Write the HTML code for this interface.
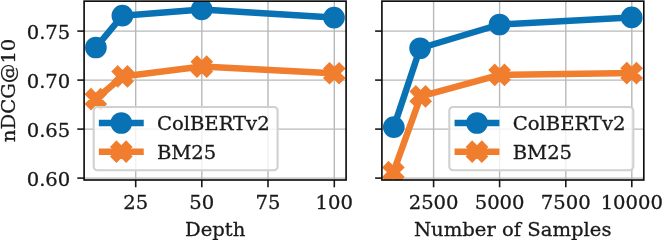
<!DOCTYPE html>
<html><head><meta charset="utf-8"><title>nDCG@10 plots</title>
<style>html,body{margin:0;padding:0;background:#fff;}body{width:662px;height:240px;overflow:hidden;}svg{display:block;}text{stroke:#1a1a1a;stroke-width:0.3px;}</style>
</head><body>
<svg width="662" height="240" viewBox="0 0 662 240" font-family="'DejaVu Serif', 'Liberation Serif', serif" font-size="19.2px" fill="#1a1a1a">
<rect width="662" height="240" fill="#ffffff"/>
<clipPath id="c1"><rect x="84.1" y="1.15" width="262.0" height="178.85"/></clipPath>
<g stroke="#b8b8b8" stroke-width="1.4">
<line x1="135.7" x2="135.7" y1="1.15" y2="180.0"/>
<line x1="201.8" x2="201.8" y1="1.15" y2="180.0"/>
<line x1="268.0" x2="268.0" y1="1.15" y2="180.0"/>
<line x1="334.3" x2="334.3" y1="1.15" y2="180.0"/>
<line x1="84.1" x2="346.1" y1="31.1" y2="31.1"/>
<line x1="84.1" x2="346.1" y1="80.1" y2="80.1"/>
<line x1="84.1" x2="346.1" y1="129.1" y2="129.1"/>
<line x1="84.1" x2="346.1" y1="178.1" y2="178.1"/>
</g>
<g stroke="#1a1a1a" stroke-width="1.6">
<line x1="135.7" x2="135.7" y1="180.0" y2="187.3"/>
<line x1="201.8" x2="201.8" y1="180.0" y2="187.3"/>
<line x1="268.0" x2="268.0" y1="180.0" y2="187.3"/>
<line x1="334.3" x2="334.3" y1="180.0" y2="187.3"/>
<line x1="77.3" x2="84.1" y1="31.1" y2="31.1"/>
<line x1="77.3" x2="84.1" y1="80.1" y2="80.1"/>
<line x1="77.3" x2="84.1" y1="129.1" y2="129.1"/>
<line x1="77.3" x2="84.1" y1="178.1" y2="178.1"/>
</g>
<g clip-path="url(#c1)">
<polyline points="95.90,47.50 122.40,15.70 201.70,9.40 334.00,17.60" fill="none" stroke="#0872B4" stroke-width="6.5" stroke-linejoin="round" stroke-linecap="square"/>
<circle cx="95.90" cy="47.50" r="9.65" fill="#0872B4" stroke="#0872B4" stroke-width="2.4"/>
<circle cx="122.40" cy="15.70" r="9.65" fill="#0872B4" stroke="#0872B4" stroke-width="2.4"/>
<circle cx="201.70" cy="9.40" r="9.65" fill="#0872B4" stroke="#0872B4" stroke-width="2.4"/>
<circle cx="334.00" cy="17.60" r="9.65" fill="#0872B4" stroke="#0872B4" stroke-width="2.4"/>
<polyline points="95.80,99.10 122.60,76.40 201.80,66.60 334.30,73.25" fill="none" stroke="#F07E2E" stroke-width="6.5" stroke-linejoin="round" stroke-linecap="square"/>
<path d="M90.97,89.45 L95.80,94.27 L100.62,89.45 L105.45,94.27 L100.62,99.10 L105.45,103.92 L100.62,108.75 L95.80,103.92 L90.97,108.75 L86.15,103.92 L90.97,99.10 L86.15,94.27Z" fill="#F07E2E" stroke="#F07E2E" stroke-width="2.4" stroke-linejoin="miter"/>
<path d="M117.77,66.75 L122.60,71.58 L127.42,66.75 L132.25,71.58 L127.42,76.40 L132.25,81.23 L127.42,86.05 L122.60,81.23 L117.77,86.05 L112.95,81.23 L117.77,76.40 L112.95,71.58Z" fill="#F07E2E" stroke="#F07E2E" stroke-width="2.4" stroke-linejoin="miter"/>
<path d="M196.98,56.95 L201.80,61.77 L206.62,56.95 L211.45,61.77 L206.62,66.60 L211.45,71.42 L206.62,76.25 L201.80,71.42 L196.98,76.25 L192.15,71.42 L196.98,66.60 L192.15,61.77Z" fill="#F07E2E" stroke="#F07E2E" stroke-width="2.4" stroke-linejoin="miter"/>
<path d="M329.48,63.60 L334.30,68.42 L339.12,63.60 L343.95,68.42 L339.12,73.25 L343.95,78.08 L339.12,82.90 L334.30,78.08 L329.48,82.90 L324.65,78.08 L329.48,73.25 L324.65,68.42Z" fill="#F07E2E" stroke="#F07E2E" stroke-width="2.4" stroke-linejoin="miter"/>
</g>
<rect x="84.1" y="1.15" width="262.0" height="178.85" fill="none" stroke="#0d0d0d" stroke-width="1.65"/>
<text transform="translate(135.7 208.7) scale(1.021 1)" text-anchor="middle">25</text>
<text transform="translate(201.8 208.7) scale(1.021 1)" text-anchor="middle">50</text>
<text transform="translate(268.0 208.7) scale(1.021 1)" text-anchor="middle">75</text>
<text transform="translate(334.3 208.7) scale(1.021 1)" text-anchor="middle">100</text>
<text transform="translate(70.3 38.90) scale(1.021 1)" text-anchor="end">0.75</text>
<text transform="translate(70.3 87.90) scale(1.021 1)" text-anchor="end">0.70</text>
<text transform="translate(70.3 136.90) scale(1.021 1)" text-anchor="end">0.65</text>
<text transform="translate(70.3 185.90) scale(1.021 1)" text-anchor="end">0.60</text>
<clipPath id="c2"><rect x="381.9" y="1.15" width="261.9" height="178.85"/></clipPath>
<g stroke="#b8b8b8" stroke-width="1.4">
<line x1="433.6" x2="433.6" y1="1.15" y2="180.0"/>
<line x1="499.6" x2="499.6" y1="1.15" y2="180.0"/>
<line x1="565.8" x2="565.8" y1="1.15" y2="180.0"/>
<line x1="631.8" x2="631.8" y1="1.15" y2="180.0"/>
<line x1="381.9" x2="643.8" y1="31.1" y2="31.1"/>
<line x1="381.9" x2="643.8" y1="80.1" y2="80.1"/>
<line x1="381.9" x2="643.8" y1="129.1" y2="129.1"/>
<line x1="381.9" x2="643.8" y1="178.1" y2="178.1"/>
</g>
<g stroke="#1a1a1a" stroke-width="1.6">
<line x1="433.6" x2="433.6" y1="180.0" y2="187.3"/>
<line x1="499.6" x2="499.6" y1="180.0" y2="187.3"/>
<line x1="565.8" x2="565.8" y1="180.0" y2="187.3"/>
<line x1="631.8" x2="631.8" y1="180.0" y2="187.3"/>
<line x1="375.09999999999997" x2="381.9" y1="31.1" y2="31.1"/>
<line x1="375.09999999999997" x2="381.9" y1="80.1" y2="80.1"/>
<line x1="375.09999999999997" x2="381.9" y1="129.1" y2="129.1"/>
<line x1="375.09999999999997" x2="381.9" y1="178.1" y2="178.1"/>
</g>
<g clip-path="url(#c2)">
<polyline points="393.80,127.10 420.10,48.25 499.50,24.50 631.70,17.40" fill="none" stroke="#0872B4" stroke-width="6.5" stroke-linejoin="round" stroke-linecap="square"/>
<circle cx="393.80" cy="127.10" r="9.65" fill="#0872B4" stroke="#0872B4" stroke-width="2.4"/>
<circle cx="420.10" cy="48.25" r="9.65" fill="#0872B4" stroke="#0872B4" stroke-width="2.4"/>
<circle cx="499.50" cy="24.50" r="9.65" fill="#0872B4" stroke="#0872B4" stroke-width="2.4"/>
<circle cx="631.70" cy="17.40" r="9.65" fill="#0872B4" stroke="#0872B4" stroke-width="2.4"/>
<polyline points="393.40,172.20 420.70,96.40 499.60,74.90 631.60,73.10" fill="none" stroke="#F07E2E" stroke-width="6.5" stroke-linejoin="round" stroke-linecap="square"/>
<path d="M388.57,162.55 L393.40,167.38 L398.22,162.55 L403.05,167.38 L398.22,172.20 L403.05,177.02 L398.22,181.85 L393.40,177.02 L388.57,181.85 L383.75,177.02 L388.57,172.20 L383.75,167.38Z" fill="#F07E2E" stroke="#F07E2E" stroke-width="2.4" stroke-linejoin="miter"/>
<path d="M415.88,86.75 L420.70,91.58 L425.52,86.75 L430.35,91.58 L425.52,96.40 L430.35,101.23 L425.52,106.05 L420.70,101.23 L415.88,106.05 L411.05,101.23 L415.88,96.40 L411.05,91.58Z" fill="#F07E2E" stroke="#F07E2E" stroke-width="2.4" stroke-linejoin="miter"/>
<path d="M494.78,65.25 L499.60,70.08 L504.43,65.25 L509.25,70.08 L504.43,74.90 L509.25,79.73 L504.43,84.55 L499.60,79.73 L494.78,84.55 L489.95,79.73 L494.78,74.90 L489.95,70.08Z" fill="#F07E2E" stroke="#F07E2E" stroke-width="2.4" stroke-linejoin="miter"/>
<path d="M626.77,63.45 L631.60,68.27 L636.43,63.45 L641.25,68.27 L636.43,73.10 L641.25,77.92 L636.43,82.75 L631.60,77.92 L626.77,82.75 L621.95,77.92 L626.77,73.10 L621.95,68.27Z" fill="#F07E2E" stroke="#F07E2E" stroke-width="2.4" stroke-linejoin="miter"/>
</g>
<rect x="381.9" y="1.15" width="261.9" height="178.85" fill="none" stroke="#0d0d0d" stroke-width="1.65"/>
<text transform="translate(433.6 208.7) scale(1.021 1)" text-anchor="middle">2500</text>
<text transform="translate(499.6 208.7) scale(1.021 1)" text-anchor="middle">5000</text>
<text transform="translate(565.8 208.7) scale(1.021 1)" text-anchor="middle">7500</text>
<text transform="translate(631.8 208.7) scale(1.021 1)" text-anchor="middle">10000</text>
<rect x="93.7" y="107.0" width="183.90000000000003" height="63.30000000000001" rx="3.8" ry="3.8" fill="#ffffff" fill-opacity="0.8" stroke="#cfd1d1" stroke-width="2.1"/>
<line x1="102.1" x2="140.5" y1="123.0" y2="123.0" stroke="#0872B4" stroke-width="6.5" stroke-linecap="square"/>
<circle cx="121.3" cy="123.0" r="9.65" fill="#0872B4" stroke="#0872B4" stroke-width="2.4"/>
<text transform="translate(156.9 129.8) scale(1.021 1)">ColBERTv2</text>
<line x1="102.1" x2="140.5" y1="151.7" y2="151.7" stroke="#F07E2E" stroke-width="6.5" stroke-linecap="square"/>
<path d="M116.47,142.05 L121.30,146.88 L126.12,142.05 L130.95,146.88 L126.12,151.70 L130.95,156.52 L126.12,161.35 L121.30,156.52 L116.47,161.35 L111.65,156.52 L116.47,151.70 L111.65,146.88Z" fill="#F07E2E" stroke="#F07E2E" stroke-width="2.4"/>
<text transform="translate(156.9 158.6) scale(1.021 1)">BM25</text>
<rect x="449.3" y="107.0" width="183.99999999999994" height="63.30000000000001" rx="3.8" ry="3.8" fill="#ffffff" fill-opacity="0.8" stroke="#cfd1d1" stroke-width="2.1"/>
<line x1="457.8" x2="496.2" y1="123.0" y2="123.0" stroke="#0872B4" stroke-width="6.5" stroke-linecap="square"/>
<circle cx="477.0" cy="123.0" r="9.65" fill="#0872B4" stroke="#0872B4" stroke-width="2.4"/>
<text transform="translate(512.7 129.8) scale(1.021 1)">ColBERTv2</text>
<line x1="457.8" x2="496.2" y1="151.7" y2="151.7" stroke="#F07E2E" stroke-width="6.5" stroke-linecap="square"/>
<path d="M472.18,142.05 L477.00,146.88 L481.82,142.05 L486.65,146.88 L481.82,151.70 L486.65,156.52 L481.82,161.35 L477.00,156.52 L472.18,161.35 L467.35,156.52 L472.18,151.70 L467.35,146.88Z" fill="#F07E2E" stroke="#F07E2E" stroke-width="2.4"/>
<text transform="translate(512.7 158.6) scale(1.021 1)">BM25</text>
<text transform="translate(215.2 235.8) scale(1.021 1)" text-anchor="middle">Depth</text>
<text transform="translate(512.7 235.8) scale(1.021 1)" text-anchor="middle">Number of Samples</text>
<text transform="translate(15.3,90.4) rotate(-90) scale(1.021 1)" text-anchor="middle">nDCG@10</text>
</svg>
</body></html>
